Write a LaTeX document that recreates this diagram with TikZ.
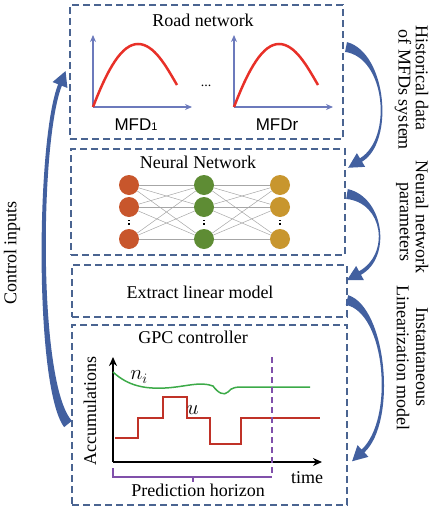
\documentclass[tikz,border=0pt]{standalone}
\usepackage{fontspec}
\setmainfont{Liberation Serif}
\newfontfamily\arialfont{Liberation Sans}
\usetikzlibrary{calc,arrows.meta}

\definecolor{boxblue}{RGB}{74,100,145}
\definecolor{arrowblue}{RGB}{66,96,160}
\definecolor{axisblue}{RGB}{108,122,188}
\definecolor{mfdred}{RGB}{232,48,40}
\definecolor{nnorange}{RGB}{200,86,44}
\definecolor{nngreen}{RGB}{94,140,52}
\definecolor{nngold}{RGB}{200,150,46}
\definecolor{gpcgreen}{RGB}{60,170,72}
\definecolor{gpcred}{RGB}{192,50,40}
\definecolor{horizon}{RGB}{128,80,170}

\tikzset{
  panel/.style={draw=boxblue, line width=1.5pt, dash pattern=on 7pt off 4pt, inner sep=0pt},
  title/.style={font=\fontsize{18}{20}\selectfont, inner sep=0pt},
  sidetext/.style={font=\fontsize{18}{20}\selectfont, inner sep=0pt},
  neuron/.style={circle, minimum size=20pt, inner sep=0pt},
  synapse/.style={draw=gray!70, line width=0.5pt},
  mfdaxis/.style={draw=axisblue, line width=1.5pt, -{Stealth[length=7pt,width=6pt]}},
  mfdcurve/.style={draw=mfdred, line width=2.5pt},
  gpcaxis/.style={draw=black, line width=2pt, -{Stealth[length=9pt,width=8pt]}},
}

% tapered bent arrow: tail, control 1, control 2, neck
\newcommand{\bentarrow}[4]{%
  \coordinate (ta) at ($(#1)!5pt!90:(#2)$);
  \coordinate (tb) at ($(#1)!5pt!-90:(#2)$);
  \coordinate (ka) at ($(#1)!2.5pt!90:(#2)$);
  \coordinate (kb) at ($(#1)!2.5pt!-90:(#2)$);
  \coordinate (na) at ($(#4)!2pt!-90:(#3)$);
  \coordinate (nb) at ($(#4)!2pt!90:(#3)$);
  \fill[arrowblue] (ta) .. controls ($(#2)+(ka)-(#1)$) and ($(#3)+(na)-(#4)$) .. (na)
    -- ($(#4)!8pt!-90:(#3)$) -- ($(#4)!-15pt!(#3)$) -- ($(#4)!8pt!90:(#3)$)
    -- (nb) .. controls ($(#3)+(nb)-(#4)$) and ($(#2)+(kb)-(#1)$) .. (tb) -- cycle;}

\begin{document}
\begin{tikzpicture}[x=1pt,y=-1pt]
  \useasboundingbox (0,0) rectangle (433,509);

  % panels
  \node[panel, minimum width=273pt, minimum height=134pt] (road) at (206.5,72) {};
  \node[panel, minimum width=274pt, minimum height=106pt] (nnet) at (208,202) {};
  \node[panel, minimum width=275pt, minimum height=52pt] (lin) at (209.5,291) {};
  \node[panel, minimum width=275pt, minimum height=180pt] (gpc) at (209.5,415) {};

  % road network
  \node[title] (roadtitle) at (203,20) {Road network};
  \foreach \s/\lbl in {0/{MFD{\fontsize{11}{12}\selectfont 1}}, 141/MFDr} {
    \begin{scope}[xshift=\s pt]
      \draw[mfdaxis] (93,107) -- (93,35);
      \draw[mfdaxis] (93,107) -- (192,107);
      \draw[mfdcurve] (93,107) .. controls (108,68) and (122,44) .. (138,44)
        .. controls (154,44) and (166,66) .. (177,85);
      \node[font=\arialfont\fontsize{17}{18}\selectfont, inner sep=0pt] at (136,125) {\lbl};
    \end{scope}
  }
  \node[font=\fontsize{14}{14}\selectfont] (etc) at (206,86) {...};

  % neural network
  \node[title] (nntitle) at (198,162) {Neural Network};
  \foreach \l/\x/\c in {1/129/nnorange, 2/204/nngreen, 3/280/nngold}
    \foreach \n/\y in {1/185, 2/207, 3/239}
      \node[neuron, fill=\c] (n\l\n) at (\x,\y) {};
  \foreach \a/\b in {1/2, 2/3}
    \foreach \i in {1,2,3}
      \foreach \j in {1,2,3}
        \draw[synapse] (n\a\i) -- (n\b\j);
  \foreach \l in {1,2,3}
    \draw[line width=1.2pt, dotted, shorten <=3pt, shorten >=3pt] (n\l2) -- (n\l3);

  % linear model
  \node[title] (lintitle) at (200,292) {Extract linear model};

  % GPC controller
  \node[title] (gpctitle) at (193,337) {GPC controller};
  \draw[gpcaxis] (113,462) -- (113,357);
  \draw[gpcaxis] (113,462) -- (322,462);
  \draw[gpcgreen, line width=1.5pt] (113,372) .. controls (128,386) and (145,389) .. (165,388)
    .. controls (185,387) and (200,381) .. (213,386)
    .. controls (218,393) and (224,396) .. (228,392)
    .. controls (232,387) and (236,387) .. (246,387) -- (310,387);
  \draw[gpcred, line width=1.5pt] (115,438) -- (138,438) -- (138,418) -- (163,418)
    -- (163,397) -- (187,397) -- (187,418) -- (210,418) -- (210,444)
    -- (241,444) -- (241,418) -- (320,418);
  \draw[horizon, line width=1.2pt, dash pattern=on 6pt off 4pt] (272,357) -- (272,474);
  \draw[horizon, line width=1.2pt] (113,468) -- (113,477) -- (272,477);
  \draw[horizon, line width=1.2pt] (193,477) -- (193,482);
  \node[font=\fontsize{20}{22}\selectfont, inner sep=0pt] (ni) at (139,377) {$n_i$};
  \node[font=\fontsize{20}{22}\selectfont, inner sep=0pt] (uu) at (193,410) {$u$};
  \node[title, rotate=90] (accu) at (90,411) {Accumulations};
  \node[title] (time) at (307,478) {time};
  \node[title] (horiz) at (198,490) {Prediction horizon};

  % side labels
  \node[sidetext, rotate=-90] (hist1) at (422,78) {Historical data};
  \node[sidetext, rotate=-90] (hist2) at (403,90) {of MFDs system};
  \node[sidetext, rotate=-90] (par1) at (422,217) {Neural network};
  \node[sidetext, rotate=-90] (par2) at (403,222) {parameters};
  \node[sidetext, rotate=-90] (ins1) at (422,357) {Instantaneous};
  \node[sidetext, rotate=-90] (ins2) at (403,358) {Linearization model};
  \node[title, rotate=90] (ctrl) at (12,253) {Control inputs};

  % bent arrows
  \coordinate (h0) at (346,47);   \coordinate (h1) at (386,55);
  \coordinate (h2) at (394,140);  \coordinate (h3) at (361,160);
  \coordinate (p0) at (347,194);  \coordinate (p1) at (384,200);
  \coordinate (p2) at (391,256);  \coordinate (p3) at (360,273);
  \coordinate (l0) at (347,300);  \coordinate (l1) at (386,310);
  \coordinate (l2) at (396,420);  \coordinate (l3) at (363,451);
  \coordinate (c0) at (68,424);   \coordinate (c1) at (36,385);
  \coordinate (c2) at (38,140);   \coordinate (c3) at (60,85);
  \bentarrow{h0}{h1}{h2}{h3}
  \bentarrow{p0}{p1}{p2}{p3}
  \bentarrow{l0}{l1}{l2}{l3}
  \bentarrow{c0}{c1}{c2}{c3}
\end{tikzpicture}
\end{document}
